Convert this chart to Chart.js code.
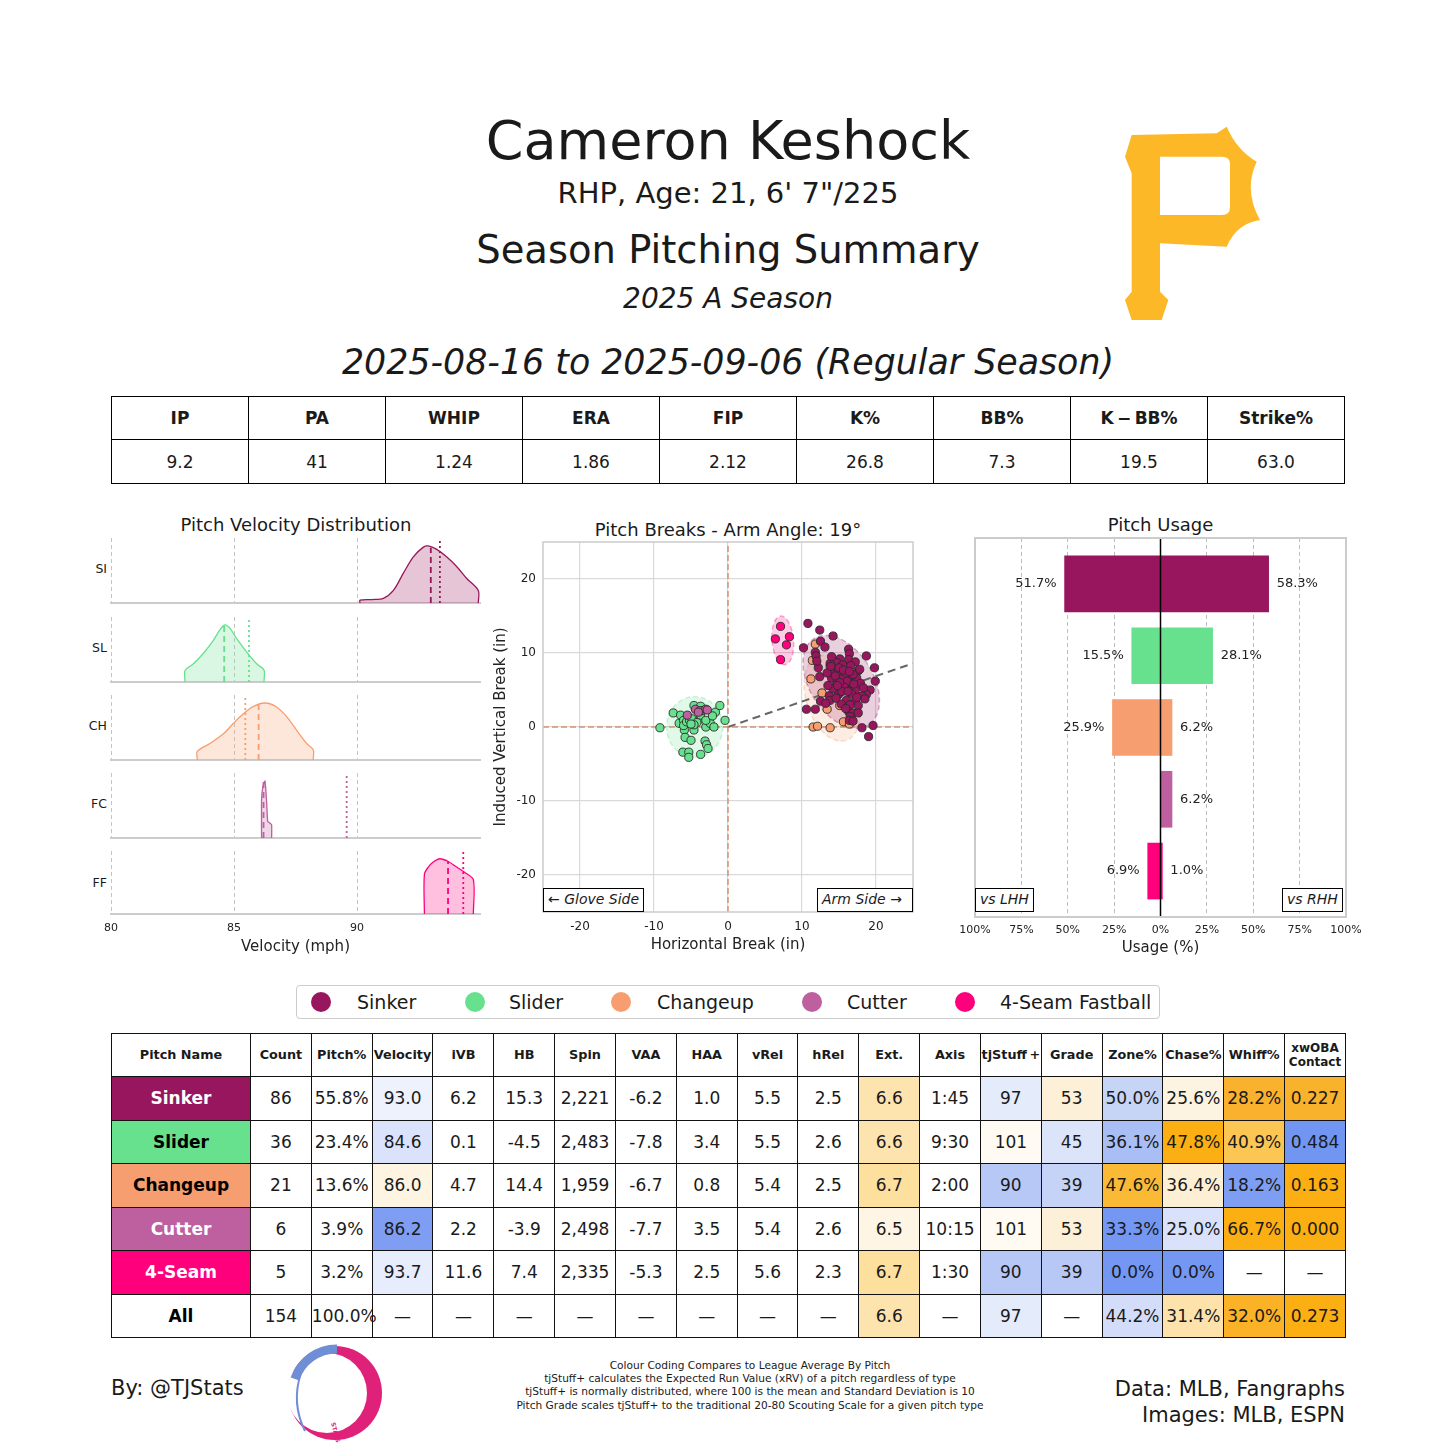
<!DOCTYPE html>
<html><head><meta charset="utf-8">
<script src="https://cdn.jsdelivr.net/npm/chart.js@4.4.1/dist/chart.umd.min.js"></script>
<style>
html,body{margin:0;padding:0;background:#fff;}
body{width:1456px;height:1456px;position:relative;overflow:hidden;font-family:'DejaVu Sans',sans-serif;color:#1a1a1a;}
.abs{position:absolute;}
.full{left:0;width:1456px;text-align:center;line-height:1;white-space:nowrap;}
.cbox{position:absolute;}
table{border-collapse:collapse;table-layout:fixed;}
td{border:1px solid #111;text-align:center;padding:0;white-space:nowrap;overflow:visible;}
.side{position:absolute;border:1.2px solid #000;background:#fff;font-style:italic;font-size:14px;line-height:21px;padding:0 4px;box-sizing:border-box;height:24px;}
.lab{position:absolute;font-size:12.5px;width:30px;text-align:right;line-height:14px;}
.leg{position:absolute;font-size:19px;line-height:20px;}
.dot{position:absolute;width:20px;height:20px;border-radius:50%;}
</style></head><body>

<div class="abs full" style="top:114px;font-size:54px;">Cameron Keshock</div>
<div class="abs full" style="top:179px;font-size:29px;">RHP, Age: 21, 6' 7"/225</div>
<div class="abs full" style="top:231px;font-size:38.5px;">Season Pitching Summary</div>
<div class="abs full" style="top:285px;font-size:28px;font-style:italic;">2025 A Season</div>
<div class="abs full" style="top:345px;font-size:34.8px;font-style:italic;">2025-08-16 to 2025-09-06 (Regular Season)</div>

<svg class="abs" style="left:1100px;top:110px;" width="180" height="230" viewBox="0 0 180 230">
<path fill="#FDB827" fill-rule="evenodd" d="M31.7 25 L116.7 23.3 L126.7 16.7 Q136.7 40 156.7 51.7 Q143.3 80 160 110 Q136.7 113.3 126.7 136.7 L60 133.3 L60 181.7 L68.3 190 L61.7 210 L31.7 210 L25 190 L31.7 181.7 L31.7 63.3 L25 46.7 Z M60 46.7 L122 46.7 Q130 46.7 130 54 L130 97 Q130 105 122 105 L60 105 Z"/>
</svg>

<table id="stats" class="abs" style="left:111px;top:396px;width:1234px;"></table>

<div class="abs" style="left:111px;width:370px;top:515px;text-align:center;font-size:18px;line-height:20px;">Pitch Velocity Distribution</div>
<div class="abs" style="left:528px;width:400px;top:520px;text-align:center;font-size:18px;line-height:20px;">Pitch Breaks - Arm Angle: 19°</div>
<div class="abs" style="left:975px;width:371px;top:515px;text-align:center;font-size:18px;line-height:20px;">Pitch Usage</div>

<div class="lab" style="left:77px;top:562px;">SI</div>
<div class="lab" style="left:77px;top:641px;">SL</div>
<div class="lab" style="left:77px;top:719px;">CH</div>
<div class="lab" style="left:77px;top:797px;">FC</div>
<div class="lab" style="left:77px;top:876px;">FF</div>

<div class="cbox" style="left:91px;top:538px;width:399px;height:67px;"><canvas id="v0"></canvas></div>
<div class="cbox" style="left:91px;top:617px;width:399px;height:67px;"><canvas id="v1"></canvas></div>
<div class="cbox" style="left:91px;top:695px;width:399px;height:67px;"><canvas id="v2"></canvas></div>
<div class="cbox" style="left:91px;top:773px;width:399px;height:67px;"><canvas id="v3"></canvas></div>
<div class="cbox" style="left:91px;top:851px;width:399px;height:107px;"><canvas id="v4"></canvas></div>

<div class="cbox" style="left:490px;top:537px;width:428px;height:419px;"><canvas id="brk"></canvas></div>
<div class="side" style="left:543px;top:888px;">← Glove Side</div>
<div class="side" style="left:817px;top:888px;width:96px;">Arm Side →</div>

<div class="cbox" style="left:955px;top:533px;width:406px;height:426px;"><canvas id="use"></canvas></div>
<div class="side" style="left:975px;top:888px;">vs LHH</div>
<div class="side" style="left:1282px;top:888px;">vs RHH</div>

<div class="abs" style="left:296px;top:985px;width:864px;height:34px;border:1px solid #ccc;border-radius:4px;box-sizing:border-box;"></div>
<div id="legend"></div>

<table id="ptab" class="abs" style="left:111px;top:1033px;width:1234px;"></table>

<div class="abs" style="left:111px;top:1376px;font-size:21px;line-height:24px;">By: @TJStats</div>
<svg class="abs" style="left:285px;top:1343px;" width="100" height="100" viewBox="0 0 100 100">
<circle cx="50" cy="50" r="47" fill="#E0217A"/>
<circle cx="42" cy="50" r="40" fill="#fff"/>
<path d="M10 36 A44 44 0 0 1 52 6" stroke="#6F8ED6" stroke-width="9" fill="none"/>
<path d="M16 30 Q6 60 20 88" stroke="#6F8ED6" stroke-width="2" fill="none"/>
<text x="46" y="80" font-size="6" font-weight="bold" fill="#E0217A" transform="rotate(75 46 80)">STATS</text>
</svg>
<div class="abs" style="left:450px;width:600px;top:1359px;text-align:center;font-size:10.6px;line-height:13.2px;">Colour Coding Compares to League Average By Pitch<br>tjStuff+ calculates the Expected Run Value (xRV) of a pitch regardless of type<br>tjStuff+ is normally distributed, where 100 is the mean and Standard Deviation is 10<br>Pitch Grade scales tjStuff+ to the traditional 20-80 Scouting Scale for a given pitch type</div>
<div class="abs" style="left:945px;width:400px;top:1376px;text-align:right;font-size:21px;line-height:26px;">Data: MLB, Fangraphs<br>Images: MLB, ESPN</div>

<script>
// ---------------- DATA ----------------
const pitchNames = ['Sinker','Slider','Changeup','Cutter','4-Seam Fastball'];
const pitchShort = ['Sinker','Slider','Changeup','Cutter','4-Seam'];
const pitchCodes = ['SI','SL','CH','FC','FF'];
const pitchColors = ['#98165D','#67E18D','#F79E70','#BE5FA0','#FF007D'];

const statHeaders = ['IP','PA','WHIP','ERA','FIP','K%','BB%','K\u2009\u2212\u2009BB%','Strike%'];
const statValues = ['9.2','41','1.24','1.86','2.12','26.8','7.3','19.5','63.0'];

// velocity density curves (mph, relative density)
const kdeSI = [[90.12,0],[90.12,0.05],[90.6,0.06],[91.07,0.08],[91.48,0.22],[91.88,0.52],[92.29,0.81],[92.7,0.98],[92.9,1.0],[93.24,0.94],[93.64,0.81],[94.05,0.64],[94.46,0.43],[94.93,0.22],[94.93,0]];
const kdeSL = [[83.01,0],[83.01,0.20],[83.35,0.32],[83.75,0.50],[84.16,0.73],[84.43,0.92],[84.63,1.0],[84.84,0.94],[85.11,0.76],[85.51,0.53],[85.92,0.32],[86.22,0.21],[86.22,0]];
const kdeCH = [[83.51,0],[83.51,0.15],[84.02,0.29],[84.57,0.46],[84.97,0.64],[85.38,0.81],[85.79,0.94],[86.26,1.0],[86.73,0.93],[87.14,0.76],[87.55,0.52],[87.95,0.29],[88.22,0.18],[88.22,0]];
const kdeFC = [[86.12,0],[86.12,0.66],[86.17,0.89],[86.26,1.0],[86.33,0.6],[86.37,0.29],[86.46,0.26],[86.53,0.23],[86.53,0]];
const kdeFF = [[92.74,0],[92.74,0.72],[92.9,0.85],[93.1,0.94],[93.37,1.0],[93.71,0.95],[94.05,0.85],[94.39,0.75],[94.73,0.62],[94.73,0]];
const velMean = [93.0, 84.6, 86.0, 86.2, 93.7];
const velMeanDensity = [0.97, 1.02, 0.98, 1.0, 0.95];
const velLeague = [93.37, 85.61, 85.46, 89.58, 94.32];
const velTicks = [80, 85, 90];

// pitch breaks (HB, iVB in inches)
const breakSI = [[10.8,14.0],[12.4,13.1],[14.2,12.3],[12.5,11.6],[10.2,10.7],[13.1,10.8],[11.8,10.1],[11.9,9.6],[16.3,10.5],[16.4,9.9],
[16.3,9.1],[18.7,9.6],[17.2,8.8],[15.1,9.2],[14.7,8.7],[13.8,8.6],[12.2,8.0],[12.0,8.9],[17.6,7.6],[19.8,8.0],
[14.3,7.8],[12.4,6.8],[14.0,6.6],[16.3,6.8],[17.4,6.6],[14.7,5.9],[15.5,5.7],[16.6,5.9],[17.9,5.9],[19.9,6.2],
[15.0,5.0],[16.0,5.1],[17.2,5.0],[19.2,5.0],[18.7,4.4],[13.7,4.2],[14.9,4.4],[16.7,4.5],[18.1,4.2],[12.5,3.5],
[13.8,3.6],[16.0,3.6],[17.2,3.5],[18.5,3.8],[13.2,3.2],[16.5,3.0],[17.6,2.9],[10.6,2.4],[11.8,2.4],[16.3,2.1],
[16.9,1.9],[16.5,1.4],[17.6,1.9],[16.4,0.9],[16.9,0.8],[18.1,-0.1],[19.6,0.2],[19.0,-1.3],[15.5,8.4],[15.8,7.2],
[14.9,7.6],[15.2,6.5],[16.1,6.2],[14.5,6.9],[15.7,5.4],[16.9,7.1],[14.2,5.2],[15.4,4.8],[13.4,7.3],[15.3,3.1],
[14.6,3.9],[17.8,7.8],[16.6,8.3],[15.0,8.0],[13.5,5.6],[17.4,4.0],[15.9,2.5],[14.0,9.5],[15.6,7.7],[16.2,4.8],
[13.9,8.2],[15.1,6.0],[17.0,5.8],[14.8,5.6],[16.4,7.5],[18.3,5.3]];
const breakSL = [[-9.2,-0.1],[-7.4,1.9],[-6.4,1.6],[-6.6,0.5],[-6.0,0.9],[-5.9,-0.4],[-6.0,0.2],[-5.6,0.7],[-5.2,0.9],[-4.9,1.1],
[-4.6,2.9],[-3.7,2.8],[-3.7,1.1],[-3.7,1.6],[-4.6,-0.4],[-5.8,-1.4],[-5.0,-1.8],[-6.1,-3.4],[-5.3,-3.4],[-5.3,-4.1],
[-3.7,-3.7],[-3.1,-1.9],[-2.9,-2.4],[-2.7,-2.9],[-3.0,0.0],[-2.4,0.5],[-1.9,0.0],[-1.7,2.0],[-1.1,2.9],[-0.4,0.9],
[-3.5,2.2],[-4.2,0.6],[-3.0,0.9],[-4.6,0.3],[-2.1,1.5],[-5.0,0.4]];
const breakCH = [[11.8,11.2],[11.4,9.0],[11.2,6.5],[12.7,4.6],[13.4,2.4],[11.5,0.0],[12.1,0.1],[13.8,-0.1],[15.6,0.7],[16.4,0.4],
[15.1,2.9],[14.7,7.8],[14.0,7.3],[15.1,6.9],[14.2,6.0],[15.1,5.1],[16.1,5.5],[13.8,8.2],[14.5,6.6],[14.9,4.4],[15.8,6.2]];
const breakFC = [[-5.5,1.6],[-4.4,2.4],[-3.8,2.2],[-3.0,2.4],[-2.8,2.3],[-4.0,2.0]];
const breakFF = [[7.1,13.6],[6.4,11.9],[7.9,11.1],[8.3,12.2],[7.1,9.1]];
const armAngleLine = [[0,0],[25,8.6]];
const breakTicks = [-20,-10,0,10,20];
// confidence ellipses: [centerHB, centerIVB, radius along angle, radius across, angle deg]
const ellipseSI = [15.3, 6.1, 6.9, 4.3, -58];
const ellipseSL = [-4.5, 0.0, 3.8, 4.1, 0];
const ellipseCH = [14.1, 3.9, 6.0, 3.5, -72];
const ellipseFC = [-3.8, 2.3, 1.3, 0.6, 10];
const ellipseFF = [7.4, 11.7, 3.3, 1.45, -85];

// usage
const usageLHH = [51.7, 15.5, 25.9, 0, 6.9];
const usageRHH = [58.3, 28.1, 6.2, 6.2, 1.0];
const usageTicks = [-100,-75,-50,-25,0,25,50,75,100];

// pitch table
const tableHeaders = ['Pitch Name','Count','Pitch%','Velocity','iVB','HB','Spin','VAA','HAA','vRel','hRel','Ext.','Axis','tjStuff\u2009+','Grade','Zone%','Chase%','Whiff%','xwOBA<br>Contact'];
const rowSinker = ['Sinker','86','55.8%','93.0','6.2','15.3','2,221','-6.2','1.0','5.5','2.5','6.6','1:45','97','53','50.0%','25.6%','28.2%','0.227'];
const rowSlider = ['Slider','36','23.4%','84.6','0.1','-4.5','2,483','-7.8','3.4','5.5','2.6','6.6','9:30','101','45','36.1%','47.8%','40.9%','0.484'];
const rowChangeup = ['Changeup','21','13.6%','86.0','4.7','14.4','1,959','-6.7','0.8','5.4','2.5','6.7','2:00','90','39','47.6%','36.4%','18.2%','0.163'];
const rowCutter = ['Cutter','6','3.9%','86.2','2.2','-3.9','2,498','-7.7','3.5','5.4','2.6','6.5','10:15','101','53','33.3%','25.0%','66.7%','0.000'];
const row4Seam = ['4-Seam','5','3.2%','93.7','11.6','7.4','2,335','-5.3','2.5','5.6','2.3','6.7','1:30','90','39','0.0%','0.0%','\u2014','\u2014'];
const rowAll = ['All','154','100.0%','\u2014','\u2014','\u2014','\u2014','\u2014','\u2014','\u2014','\u2014','6.6','\u2014','97','\u2014','44.2%','31.4%','32.0%','0.273'];

// ---------------- STYLES ----------------
const cellColors = [
 {3:'#edf2fd',11:'#fde4ae',13:'#e4ebfb',14:'#fdf0d8',15:'#c6d4f6',16:'#fdf3e1',17:'#fab12e',18:'#f9b22c'},
 {3:'#dae3fb',11:'#fde4ae',13:'#fffaf2',14:'#dce4fa',15:'#a9bef5',16:'#fcaf12',17:'#fbc654',18:'#7196f2'},
 {3:'#fef4e2',11:'#fddf9e',13:'#b7c8f6',14:'#c5d3f6',15:'#fbba35',16:'#fdefd3',17:'#7d9ef3',18:'#fcaf12'},
 {3:'#7f9ef3',11:'#fef5e5',13:'#fffaf2',14:'#fdf0d8',15:'#7397f3',16:'#d9e2fa',17:'#fcaf12',18:'#fcaf12'},
 {3:'#e7edfc',11:'#fddf9e',13:'#b7c8f6',14:'#b7c8f6',15:'#7397f3',16:'#7397f3'},
 {11:'#fde4ae',13:'#e4ebfb',15:'#d3ddf9',16:'#fde3ab',17:'#fbb227',18:'#fcaf12'}
];
const nameTextColors = ['#fff','#000','#000','#fff','#fff','#000'];

function rgba(hex,a){const n=parseInt(hex.slice(1),16);return `rgba(${n>>16},${(n>>8)&255},${n&255},${a})`;}

// ---------------- TABLES ----------------
(function(){
  const t=document.getElementById('stats');
  let h='<tr>'+statHeaders.map(s=>`<td style="height:42px;font-weight:bold;font-size:17px;border:1.3px solid #000;">${s}</td>`).join('')+'</tr>';
  h+='<tr>'+statValues.map(s=>`<td style="height:43px;font-size:17px;border:1.3px solid #000;">${s}</td>`).join('')+'</tr>';
  t.innerHTML=h;
  const p=document.getElementById('ptab');
  let cg='<colgroup><col style="width:139px">'+tableHeaders.slice(1).map(()=>'<col style="width:60.83px">').join('')+'</colgroup>';
  let s=cg+'<tr>'+tableHeaders.map((x,i)=>`<td style="height:42px;font-weight:bold;font-size:${i===18?12:12.8}px;line-height:${i===18?14:16}px;">${x}</td>`).join('')+'</tr>';
  const rows=[rowSinker,rowSlider,rowChangeup,rowCutter,row4Seam,rowAll];
  rows.forEach((r,ri)=>{
    s+='<tr>'+r.map((v,ci)=>{
      if(ci===0){const bg=ri<5?pitchColors[ri]:'#fff';return `<td style="height:42.5px;background:${bg};color:${nameTextColors[ri]};font-weight:bold;font-size:17px;">${v}</td>`;}
      const bg=cellColors[ri][ci]||'#fff';
      return `<td style="height:42.5px;background:${bg};font-size:17px;">${v}</td>`;
    }).join('')+'</tr>';
  });
  p.innerHTML=s;
  const lg=document.getElementById('legend');
  const dx=[321,475,621,812,965], tx=[357,509,657,847,1000];
  lg.innerHTML=pitchNames.map((n,i)=>`<div class="dot" style="left:${dx[i]-10}px;top:992px;background:${pitchColors[i]};"></div><div class="leg" style="left:${tx[i]}px;top:992px;">${n}</div>`).join('');
})();

// ---------------- CHARTS ----------------
Chart.defaults.font.family="'DejaVu Sans', sans-serif";
Chart.defaults.color='#222';
Chart.defaults.animation=false;

const framePlugin={id:'frame',afterDraw(chart,args,opts){if(!opts||!opts.color)return;const a=chart.chartArea,c=chart.ctx;c.save();c.strokeStyle=opts.color;c.lineWidth=opts.width||1;c.strokeRect(a.left,a.top,a.right-a.left,a.bottom-a.top);c.restore();}};
function fixH(h){return s=>{s.height=h;s.paddingLeft=0;s.paddingRight=0;};}
function fixW(w){return s=>{s.width=w;s.paddingTop=0;s.paddingBottom=0;};}

const kdes=[kdeSI,kdeSL,kdeCH,kdeFC,kdeFF];
kdes.forEach((kde,i)=>{
  const last=i===4, col=pitchColors[i];
  new Chart(document.getElementById('v'+i),{
    type:'line',
    data:{datasets:[
      {data:kde.map(p=>({x:p[0],y:p[1]})),borderColor:col,backgroundColor:rgba(col,0.25),fill:'origin',tension:i===3?0.15:0.3,pointRadius:0,borderWidth:1.3},
      {data:[{x:velMean[i],y:0},{x:velMean[i],y:velMeanDensity[i]}],borderColor:col,borderDash:[6,4],borderWidth:1.8,pointRadius:0,fill:false},
      {data:[{x:velLeague[i],y:0},{x:velLeague[i],y:1.14}],borderColor:col,borderDash:[2,3],borderWidth:1.8,pointRadius:0,fill:false}
    ]},
    options:{responsive:true,maintainAspectRatio:false,animation:false,
      layout:{padding:{left:20,right:10,top:0,bottom:0},autoPadding:false},
      plugins:{legend:{display:false},tooltip:{enabled:false}},
      scales:{
        x:{type:'linear',min:80,max:95,
          afterBuildTicks:s=>{s.ticks=velTicks.map(v=>({value:v}));},
          afterFit:fixH(last?44:2),
          grid:{color:'#c4c4c4',lineWidth:1,drawTicks:false},
          border:{display:true,color:'#cccccc',width:2,dash:[4,3]},
          ticks:{display:last,font:{size:11},padding:8,maxRotation:0},
          title:{display:last,text:'Velocity (mph)',font:{size:15},padding:{top:2,bottom:2}}},
        y:{display:false,min:0,max:1.14}
      }}
  });
});

function ellipseDraw(chart){
  const xs=chart.scales.x, ys=chart.scales.y, c=chart.ctx, a=chart.chartArea;
  const list=[[ellipseCH,pitchColors[2]],[ellipseSI,pitchColors[0]],[ellipseSL,pitchColors[1]],[ellipseFC,pitchColors[3]],[ellipseFF,pitchColors[4]]];
  c.save();c.beginPath();c.rect(a.left,a.top,a.right-a.left,a.bottom-a.top);c.clip();
  list.forEach(([e,col])=>{
    const cx=xs.getPixelForValue(e[0]), cy=ys.getPixelForValue(e[1]);
    const ux=Math.abs(xs.getPixelForValue(1)-xs.getPixelForValue(0)), uy=Math.abs(ys.getPixelForValue(1)-ys.getPixelForValue(0));
    c.beginPath();
    c.ellipse(cx,cy,e[2]*ux,e[3]*uy,-e[4]*Math.PI/180,0,Math.PI*2);
    c.fillStyle=rgba(col,0.2);c.fill();
    c.setLineDash([5,3]);c.strokeStyle=rgba(col,0.35);c.lineWidth=1.5;c.stroke();
  });
  c.restore();
}
const ellipsePlugin={id:'ell',beforeDatasetsDraw(chart){ellipseDraw(chart);}};

const ptStyle=(arr,i,ord)=>({data:arr.map(p=>({x:p[0],y:p[1]})),backgroundColor:pitchColors[i],borderColor:'#2a2a2a',borderWidth:0.9,pointRadius:4.1,order:ord});
const refStyle=(pts,color,dash,w)=>({data:pts.map(p=>({x:p[0],y:p[1]})),showLine:true,pointRadius:0,borderColor:color,borderDash:dash,borderWidth:w,fill:false,order:10});

new Chart(document.getElementById('brk'),{
  type:'scatter',
  data:{datasets:[
    refStyle([[-25,0],[25,0]],'rgba(205,125,85,0.8)',[6,3],1.5),
    refStyle([[0,-25],[0,25]],'rgba(205,125,85,0.8)',[6,3],1.5),
    refStyle(armAngleLine,'#666',[8,5],2),
    ptStyle(breakSL,1,4),
    ptStyle(breakCH,2,3),
    ptStyle(breakFF,4,2),
    ptStyle(breakSI,0,1),
    ptStyle(breakFC,3,0)
  ]},
  plugins:[ellipsePlugin,framePlugin],
  options:{responsive:true,maintainAspectRatio:false,animation:false,
    layout:{padding:{left:0,right:5,top:5,bottom:0},autoPadding:false},
    plugins:{legend:{display:false},tooltip:{enabled:false},frame:{color:'#cccccc',width:1.5}},
    scales:{
      x:{type:'linear',min:-25,max:25,
        afterBuildTicks:s=>{s.ticks=breakTicks.map(v=>({value:v}));},
        afterFit:fixH(44),
        grid:{color:'#d9d9d9',lineWidth:1.2,drawTicks:false},border:{display:false},
        ticks:{font:{size:12},padding:8},
        title:{display:true,text:'Horizontal Break (in)',font:{size:15},padding:{top:2,bottom:2}}},
      y:{type:'linear',min:-25,max:25,
        afterBuildTicks:s=>{s.ticks=breakTicks.map(v=>({value:v}));},
        afterFit:fixW(53),
        grid:{color:'#d9d9d9',lineWidth:1.2,drawTicks:false},border:{display:false},
        ticks:{font:{size:12},padding:7},
        title:{display:true,text:'Induced Vertical Break (in)',font:{size:15},padding:{top:2,bottom:2}}}
    }}
});

const usageLabels={id:'ulab',afterDatasetsDraw(chart){
  const xs=chart.scales.x, ys=chart.scales.y, c=chart.ctx, a=chart.chartArea;
  c.save();
  c.strokeStyle='#000';c.lineWidth=1.5;c.beginPath();
  const x0=xs.getPixelForValue(0);c.moveTo(x0,a.top);c.lineTo(x0,a.bottom);c.stroke();
  c.font="13px 'DejaVu Sans'";c.fillStyle='#222';c.textBaseline='middle';
  usageLHH.forEach((v,i)=>{ if(v>0){c.textAlign='right';c.fillText(v.toFixed(1)+'%',xs.getPixelForValue(-v)-8,ys.getPixelForValue(i));}});
  usageRHH.forEach((v,i)=>{ if(v>0){c.textAlign='left';c.fillText(v.toFixed(1)+'%',xs.getPixelForValue(v)+8,ys.getPixelForValue(i));}});
  c.restore();
}};

new Chart(document.getElementById('use'),{
  type:'bar',
  data:{datasets:[
    {data:usageLHH.map((v,i)=>({x:-v,y:i})),backgroundColor:pitchColors,grouped:false,barThickness:56,borderWidth:0},
    {data:usageRHH.map((v,i)=>({x:v,y:i})),backgroundColor:pitchColors,grouped:false,barThickness:56,borderWidth:0}
  ]},
  plugins:[usageLabels,framePlugin],
  options:{indexAxis:'y',responsive:true,maintainAspectRatio:false,animation:false,
    layout:{padding:{left:20,right:15,top:5,bottom:0},autoPadding:false},
    plugins:{legend:{display:false},tooltip:{enabled:false},frame:{color:'#cccccc',width:2}},
    scales:{
      x:{type:'linear',min:-100,max:100,
        afterBuildTicks:s=>{s.ticks=usageTicks.map(v=>({value:v}));},
        afterFit:fixH(42),
        grid:{color:c=>(c.tick&&(c.tick.value===0||Math.abs(c.tick.value)===100))?'rgba(0,0,0,0)':'#bdbdbd',lineWidth:1,drawTicks:false},
        border:{display:false,dash:[4,3]},
        ticks:{font:{size:11},padding:7,maxRotation:0,callback:v=>Math.abs(v)+'%'},
        title:{display:true,text:'Usage (%)',font:{size:15},padding:{top:2,bottom:2}}},
      y:{type:'linear',min:-0.64,max:4.64,reverse:true,display:false,offset:false}
    }}
});
</script>
</body></html>
